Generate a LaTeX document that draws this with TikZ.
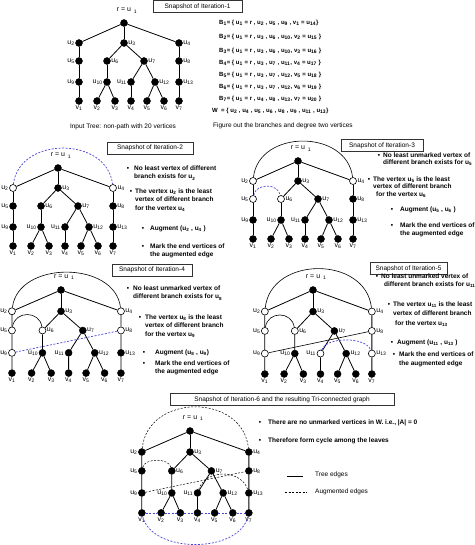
\documentclass[tikz,border=0pt]{standalone}
\usepackage{fontspec}
\setmainfont{Liberation Sans}
\usetikzlibrary{positioning}

\definecolor{augblue}{RGB}{72,72,214}

\newcommand\uix[1]{u\textsubscript{#1}}
\newcommand\vix[1]{v\textsubscript{#1}}
\newcommand\bix[1]{B\textsubscript{#1}}

\tikzset{
  dot/.style={circle, fill=black, draw=black, inner sep=0pt, minimum size=7pt, label distance=0.5pt},
  hollow/.style={fill=white, line width=0.6pt},
  lab/.style={font=\fontsize{7}{8}\selectfont, inner sep=0.5pt},
  rlab/.style={anchor=base, font=\fontsize{7}{8}\selectfont, inner sep=0pt},
  treeedge/.style={line width=0.8pt},
  madeedge/.style={line width=0.6pt},
  augedge/.style={augblue, line width=0.7pt, dash pattern=on 2pt off 1.5pt},
  augblack/.style={line width=0.5pt, dash pattern=on 2pt off 1.5pt},
  snap/.style={draw=black!80, line width=0.5pt, inner sep=0pt, minimum height=12pt, font=\fontsize{6.5}{7}\selectfont},
  captext/.style={inner sep=0pt, font=\fontsize{6.5}{7}\selectfont},
  blist/.style={anchor=west, inner sep=0pt, font=\bfseries\fontsize{6}{7}\selectfont},
  bul/.style={inner sep=0pt, font=\bfseries\fontsize{6.5}{8}\selectfont},
  note/.style={anchor=north west, align=left, inner sep=0pt, font=\bfseries\fontsize{6.5}{8.5}\selectfont}
}

% one tree, names prefixed by #1
\newcommand\branchtree[1]{%
  \node[dot, #1u1/.try] (#1u1) at (0,0) {};
  \node[rlab] (#1r) at (3,-11) {r = u\hspace{3pt}\textsubscript{1}};
  \foreach \ltr/\idx/\px/\py/\lp in {u/2/-45/20/left, u/3/0/20/right, u/4/55/20/right,
      u/5/-45/38/left, u/6/-17/38/right, u/7/20/38/right, u/8/55/38/right,
      u/9/-45/59/left, u/10/-17/59/left, u/11/7/59/left, u/12/31/59/right, u/13/55/59/right,
      v/1/-45/78/below, v/2/-27/78/below, v/3/-9/78/below, v/4/7/78/below,
      v/5/23/78/below, v/6/40/78/below, v/7/55/78/below}
    \node[dot, #1\ltr\idx/.try, label={[lab]\lp:\ltr\textsubscript{\idx}}] (#1\ltr\idx) at (\px,\py) {};
  \foreach \a/\b in {u1/u2, u1/u3, u1/u4, u2/u5, u5/u9, u9/v1, u3/u6, u3/u7, u6/u10,
      u10/v2, u10/v3, u7/u11, u7/u12, u11/v4, u12/v5, u12/v6, u4/u8, u8/u13, u13/v7}
    \draw[treeedge] (#1\a) -- (#1\b);
}

\begin{document}
\begin{tikzpicture}[x=1pt, y=-1pt]
\useasboundingbox (0,0) rectangle (474,545);

% Iteration-1
\node[snap, minimum width=89pt] (t1) at (197.5,6.5) {Snapshot of Iteration-1};
\begin{scope}[shift={(124,23)}]
  \branchtree{a}
\end{scope}
\node[captext] (incap) at (123,127) {Input Tree: non-path with 20 vertices};
\node[blist] (b1) at (219,23) {\bix{1}= \{ \uix{1} = r , \uix{2} ,  \uix{5} , \uix{9} , \vix{1} = \uix{14}\}};
\node[blist] (b2) at (219,37) {\bix{2}= \{ \uix{1} = r , \uix{3} ,  \uix{6} , \uix{10}, \vix{2} = \uix{15} \}};
\node[blist] (b3) at (219,51) {\bix{3}= \{ \uix{1} = r , \uix{3} ,  \uix{6} , \uix{10}, \vix{3} = \uix{16} \}};
\node[blist] (b4) at (219,63) {\bix{4}= \{ \uix{1} = r , \uix{3} ,  \uix{7} , \uix{11}, \vix{4} = \uix{17} \}};
\node[blist] (b5) at (219,75) {\bix{5}= \{ \uix{1} = r , \uix{3} ,  \uix{7} , \uix{12}, \vix{5} = \uix{18} \}};
\node[blist] (b6) at (219,87) {\bix{6}= \{ \uix{1} = r , \uix{3} ,  \uix{7} , \uix{12}, \vix{6} = \uix{19} \}};
\node[blist] (b7) at (219,99) {\bix{7}= \{ \uix{1} = r , \uix{4} ,  \uix{8} , \uix{13}, \vix{7} = \uix{20} \}};
\node[blist] (wl) at (212,111) {W \ = \{ \uix{2} , \uix{4} ,  \uix{5} , \uix{6} ,  \uix{8} , \uix{9} , \uix{11} , \uix{13}\}};
\node[captext, anchor=west] (brcap) at (213,126) {Figure out the branches and degree two vertices};

% Iteration-2
\node[snap, minimum width=86pt] (t2) at (150,148) {Snapshot of Iteration-2};
\begin{scope}[shift={(58,168)}, bu2/.style=hollow, bu4/.style=hollow]
  \branchtree{b}
\end{scope}
\draw[augedge] (bu2) .. controls +(6,-52) and +(-6,-52) .. (bu4);
\node[bul] at (128,169) {•};
\node[note] at (134,165.5) {No least vertex of different\\branch exists for \uix{2}};
\node[bul] at (131,192) {•};
\node[note] at (135,188.5) {The vertex \uix{2} is the least\\vertex of different branch\\for the vertex \uix{4}};
\node[bul] at (143,229) {•};
\node[note] at (150,225.5) {Augment (\uix{2} , \uix{4} )};
\node[bul] at (143,247) {•};
\node[note] at (150,243.5) {Mark the end vertices of\\the augmented edge};

% Iteration-3
\node[snap, minimum width=82pt] (t3) at (382,145.5) {Snapshot of Iteration-3};
\begin{scope}[shift={(298,161)}, cu2/.style=hollow, cu4/.style=hollow, cu5/.style=hollow, cu6/.style=hollow]
  \branchtree{c}
\end{scope}
\draw[madeedge] (cu2) .. controls +(6,-52) and +(-6,-52) .. (cu4);
\draw[augedge] (cu5) .. controls +(3,-16) and +(-3,-16) .. (cu6);
\node[bul] at (379,156) {•};
\node[note, font=\bfseries\fontsize{6.5}{7.5}\selectfont] at (383,152.5) {No least unmarked vertex of\\different branch exists for \uix{5}};
\node[bul] at (369,180) {•};
\node[note, font=\bfseries\fontsize{6.5}{7.5}\selectfont] at (373,176.5) {The vertex \uix{5} is the least\\vertex of different branch\\\hspace*{3pt}for the vertex \uix{6}};
\node[bul] at (392,210) {•};
\node[note] at (400,206.5) {Augment (\uix{5} , \uix{6} )};
\node[bul] at (392,226) {•};
\node[note] at (400,222.5) {Mark the end vertices of\\the augmented edge};

% Iteration-4
\node[snap, minimum width=80pt] (t4) at (152,270) {Snapshot of Iteration-4};
\begin{scope}[shift={(61,290)}, xscale=1.09, yscale=1.065, du2/.style=hollow, du4/.style=hollow,
    du5/.style=hollow, du6/.style=hollow, du8/.style=hollow, du9/.style=hollow]
  \branchtree{d}
\end{scope}
\draw[madeedge] (du2) .. controls +(6,-51) and +(-6,-51) .. (du4);
\draw[madeedge] (du5) .. controls +(3,-20) and +(-3,-20) .. (du6);
\draw[augedge] (du9) -- (du8);
\node[bul] at (128,289) {•};
\node[note] at (133,285.5) {No least unmarked vertex of\\different branch exists for \uix{8}};
\node[bul] at (140,318) {•};
\node[note] at (145,314.5) {The vertex \uix{8} is the least\\vertex of different branch\\for the vertex \uix{9}};
\node[bul] at (144,353) {•};
\node[note] at (155,349.5) {Augment (\uix{8} , \uix{9})};
\node[bul] at (144,364) {•};
\node[note] at (155,360.5) {Mark the end vertices of\\the augmented edge};

% Iteration-5
\node[snap, minimum width=77pt] (t5) at (408.5,268.5) {Snapshot of Iteration-5};
\begin{scope}[shift={(313,290)}, xscale=1.07, yscale=1.077, eu2/.style=hollow, eu4/.style=hollow,
    eu5/.style=hollow, eu6/.style=hollow, eu8/.style=hollow, eu9/.style=hollow,
    eu11/.style=hollow, eu13/.style=hollow]
  \branchtree{e}
\end{scope}
\draw[madeedge] (eu2) .. controls +(6,-56) and +(-6,-56) .. (eu4);
\draw[madeedge] (eu5) .. controls +(3,-20) and +(-3,-20) .. (eu6);
\draw[madeedge] (eu9) -- (eu8);
\draw[augedge] (eu11) .. controls +(6,-17) and +(-6,-17) .. (eu13);
\node[bul] at (377,277) {•};
\node[note] at (381,273.5) {No least unmarked vertex of\\\hspace*{3pt}different branch exists for \uix{11}};
\node[bul] at (389,305) {•};
\node[note, font=\bfseries\fontsize{6.5}{9.5}\selectfont] at (393,301.5) {The vertex \uix{11} is the least\\vertex of different branch\\\hspace*{2pt}for the vertex \uix{13}};
\node[bul] at (392,343) {•};
\node[note] at (397,339.5) {Augment (\uix{11} , \uix{13} )};
\node[bul] at (394,355) {•};
\node[note, font=\bfseries\fontsize{6.5}{9}\selectfont] at (399,351.5) {Mark the end vertices of\\the augmented edge};

% Iteration-6
\node[snap, minimum width=224pt] (t6) at (282,399.5) {Snapshot of Iteration-6 and the resulting Tri-connected graph};
\begin{scope}[shift={(190,431)}, xscale=1.07, yscale=1.05]
  \branchtree{f}
\end{scope}
\draw[augblack] (fu2) .. controls +(6,-59) and +(-6,-59) .. (fu4);
\draw[augblack] (fu5) .. controls +(3,-13) and +(-3,-13) .. (fu6);
\draw[augblack] (fu9) -- (fu8);
\draw[augblack] (fu11) .. controls +(8,-24) and +(-8,-24) .. (fu13);
\foreach \a/\b in {v1/v2, v2/v3, v3/v4, v4/v5, v5/v6, v6/v7}
  \draw[augedge] (f\a) -- (f\b);
\draw[augedge] (fv1) .. controls +(10,41) and +(-10,41) .. (fv7);
\node[bul] at (260,423) {•};
\node[note] at (268,419.5) {There are no unmarked vertices in W. i.e., |A| = 0};
\node[bul] at (260,441) {•};
\node[note] at (268,437.5) {Therefore form cycle among the leaves};

% legend
\coordinate (lt1) at (287,476);
\coordinate (lt2) at (303,476);
\coordinate (la1) at (285,492);
\coordinate (la2) at (307,492);
\draw[treeedge] (lt1) -- (lt2);
\draw[augblack] (la1) -- (la2);
\node[captext, anchor=west] (ltree) at (315,475) {Tree edges};
\node[captext, anchor=west] (laug) at (315,492) {Augmented edges};
\end{tikzpicture}
\end{document}
